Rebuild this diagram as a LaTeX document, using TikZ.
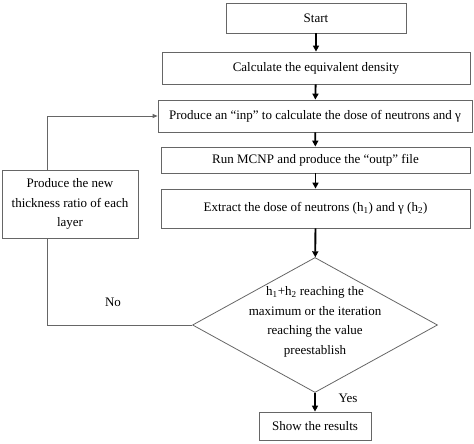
\documentclass[tikz,border=0pt]{standalone}
\usepackage{fontspec}
\setmainfont{Liberation Serif}
\usetikzlibrary{shapes.geometric,arrows.meta}
\tikzset{
  stepbox/.style={draw=gray!80!black, line width=0.8pt, minimum height=#1, inner sep=2pt, align=center},
  flow/.style={-{Triangle[length=6pt,width=6pt]}, line width=1.8pt},
  back/.style={draw=gray!80!black, line width=0.8pt}
}
\begin{document}
\begin{tikzpicture}[x=1pt,y=-1pt,font=\fontsize{13}{19.5}\selectfont]
            \useasboundingbox (0,0) rectangle (474,444);
            \node[stepbox=30pt, minimum width=180pt] (start) at (316,18) {Start};
            \node[stepbox=32pt, minimum width=308pt] (dens) at (316,68) {Calculate the equivalent density};
            \node[stepbox=32pt, minimum width=314pt] (inp) at (315,116) {Produce an “inp” to calculate the dose of neutrons and γ};
            \node[stepbox=26pt, minimum width=309pt] (mcnp) at (315.5,160) {Run MCNP and produce the “outp” file};
            \node[stepbox=39pt, minimum width=309pt] (dose) at (315.5,208.5) {Extract the dose of neutrons (h\textsubscript{1}) and γ (h\textsubscript{2})};
            \node[stepbox=68pt, minimum width=136pt] (ratio) at (70,204) {Produce the new\\thickness ratio of each\\layer};
            \node[diamond, draw=gray!80!black, line width=0.8pt, minimum width=245pt, minimum height=135pt, inner sep=0pt] (test) at (315,325) {};
            \node[align=center] (testtext) at (315,322) {h\textsubscript{1}+h\textsubscript{2} reaching the\\maximum or the iteration\\reaching the value\\preestablish};
            \node[stepbox=28pt, minimum width=112pt] (show) at (315,426) {Show the results};
            % main flow
            \draw[flow] (start) -- (dens);
            \draw[flow] (dens) -- (inp);
            \draw[flow] (inp) -- (mcnp);
            \draw[flow] (mcnp) -- (dose);
            \draw[flow] (dose) -- (test);
            \draw[flow] (test) -- (show);
            \node (yes) at (348,398) {Yes};
            % loop back
            \coordinate (corner) at (47,325);
            \draw[back] (test.west) -- (corner) -- (ratio.south -| corner);
            \draw[back, -{Triangle[length=5pt,width=4pt]}] (ratio.north -| corner) |- (inp.west);
            \node (no) at (113,302) {No};
        \end{tikzpicture}
\end{document}
